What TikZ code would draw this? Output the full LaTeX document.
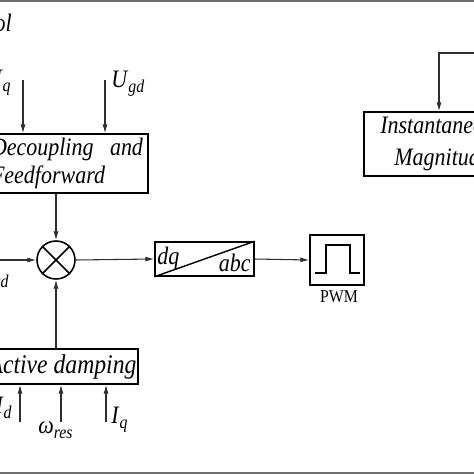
\documentclass[tikz,border=0pt]{standalone}
\usepackage{fontspec}
\setmainfont{Liberation Serif}[FakeStretch=0.875]
\usetikzlibrary{arrows.meta}
\definecolor{frame}{HTML}{6E6E6E}
\definecolor{wire}{HTML}{2E2E2E}
\newcommand{\sig}[2]{\textit{#1}\raisebox{-3.4pt}{\fontsize{10.3}{10}\selectfont\itshape #2}}

\begin{document}
\begin{tikzpicture}[
  x=0.02cm, y=-0.02cm,
  >={Latex[length=5pt,width=2.8pt]},
  block/.style={draw, line width=0.9pt, inner sep=0pt, font=\fontsize{14.3}{16}\selectfont\itshape},
  arr/.style={->, line width=0.6pt, color=wire},
  lbl/.style={inner sep=0pt, font=\fontsize{14.3}{14}\selectfont},
]
\useasboundingbox (0,0) rectangle (474,474);

% frame
\draw[frame, line width=1.2pt] (0,1) -- (474,1);
\draw[frame, line width=1.4pt] (0,473) -- (474,473);

\node[lbl, anchor=base east, font=\fontsize{14.3}{14}\selectfont\itshape] (title) at (12,31) {Control};

% blocks
\node[block, minimum width=3.24cm, minimum height=1.18cm, text width=3.04cm, align=justify] (decouple) at (67,163.5) {Decoupling and Feedforward};
\node[draw, circle, line width=0.9pt, minimum size=0.76cm, inner sep=0pt] (sum) at (56,260) {};
\draw[line width=0.9pt] (sum.north west) -- (sum.south east) (sum.north east) -- (sum.south west);

\node[block, minimum width=1.98cm, minimum height=0.68cm] (dqabc) at (204.5,259) {};
\draw[line width=0.8pt] (dqabc.south west) -- (dqabc.north east);
\node[lbl, anchor=north west, font=\fontsize{14.3}{14}\selectfont\itshape] (dqtxt) at (157,247) {dq};
\node[lbl, anchor=base east, font=\fontsize{14.3}{14}\selectfont\itshape] (abctxt) at (251,271) {abc};

\node[block, minimum width=1.08cm, minimum height=1.0cm] (pwm) at (337,260) {};
\draw[line width=1.1pt] (315,273) -- (326,273) -- (326,245) -- (350,245) -- (350,273) -- (360,273);
\node[lbl, anchor=north, font=\fontsize{10.3}{10}\selectfont] (pwmtxt) at (339,290) {PWM};

\node[block, minimum width=3.02cm, minimum height=0.7cm, font=\fontsize{15.4}{16}\selectfont\itshape] (damping) at (62.5,366.5) {Active damping};
\node[block, minimum width=3.12cm, minimum height=1.28cm, align=center, font=\fontsize{14.3}{18}\selectfont\itshape] (inst) at (442,144) {Instantaneous\\Magnitude};

% inputs
\coordinate (iqin) at (23,80);
\coordinate (ugdin) at (105,80);
\coordinate (ucdin) at (0,260);
\coordinate (idin) at (20,422);
\coordinate (wresin) at (61,422);
\coordinate (iqbin) at (106,422);
\coordinate (fbin) at (480,53);
\coordinate (fbturn) at (439,53);

\draw[arr] (iqin) -- (iqin |- decouple.north);
\draw[arr] (ugdin) -- (ugdin |- decouple.north);
\draw[arr] (sum |- decouple.south) -- (sum.north);
\draw[arr] (ucdin) -- (sum.west);
\draw[arr] (sum.east) -- (dqabc.west);
\draw[arr] (dqabc.east) -- (pwm.west);
\draw[arr] (sum |- damping.north) -- (sum.south);
\draw[arr] (idin) -- (idin |- damping.south);
\draw[arr] (wresin) -- (wresin |- damping.south);
\draw[arr] (iqbin) -- (iqbin |- damping.south);
\draw[arr] (fbin) -- (fbturn) -- (fbturn |- inst.north);

% labels
\node[lbl, anchor=base east] (lIq) at (11,86) {\sig{I}{q}};
\node[lbl, anchor=base west] (lUgd) at (111,87) {\sig{U}{gd}};
\node[lbl, anchor=base east] (lUcd) at (9,282) {\sig{U}{cd}};
\node[lbl, anchor=base east] (lId) at (12,413) {\sig{I}{d}};
\node[lbl, anchor=base west] (lwres) at (38,433) {\sig{ω}{res}};
\node[lbl, anchor=base west] (lIqb) at (111,423) {\sig{I}{q}};

\end{tikzpicture}
\end{document}
